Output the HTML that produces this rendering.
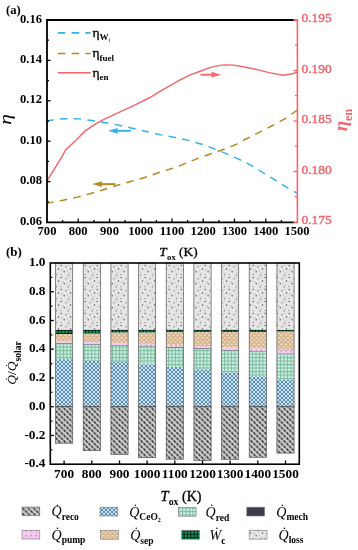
<!DOCTYPE html>
<html><head><meta charset="utf-8"><title>Figure</title>
<style>html,body{margin:0;padding:0;background:#fff;}body{width:358px;height:550px;position:relative;overflow:hidden;}</style>
</head><body>
<svg width="358" height="550" viewBox="0 0 358 550" style="position:absolute;left:0;top:0">
<defs>
<clipPath id="cpTop"><rect x="47" y="20" width="250" height="202"/></clipPath>
<pattern id="pReco" width="5.5" height="5.4" patternUnits="userSpaceOnUse" x="0" y="0">
<rect width="5.5" height="5.4" fill="#c8c8c8"/>
<path d="M0.85,0.75 L1.95,1.95 M3.6,3.45 L4.7,4.65" stroke="#1c1c1c" stroke-width="1.3" stroke-linecap="round"/>
</pattern>
<pattern id="pCeO2" width="4" height="4" patternUnits="userSpaceOnUse">
<rect width="4" height="4" fill="#bee8fb"/>
<path d="M0,0 L4,4 M4,0 L0,4" stroke="#6888a2" stroke-width="0.95"/>
<circle cx="2" cy="2" r="0.4" fill="#34495c"/>
</pattern>
<pattern id="pRed" width="3.5" height="3.5" patternUnits="userSpaceOnUse">
<rect width="3.5" height="3.5" fill="#c9f1e0"/>
<path d="M0,0.5 H3.5 M0.5,0 V3.5" stroke="#80bba2" stroke-width="1.0"/>
</pattern>
<pattern id="pPump" width="5" height="5" patternUnits="userSpaceOnUse">
<rect width="5" height="5" fill="#f5c8ef"/>
<circle cx="1.2" cy="0.8" r="0.5" fill="#333"/>
</pattern>
<pattern id="pSep" width="4.5" height="4.4" patternUnits="userSpaceOnUse">
<rect width="4.5" height="4.4" fill="#d0ad88"/>
<ellipse cx="2.25" cy="1.1" rx="1.4" ry="0.85" fill="#f6e3c8"/>
<ellipse cx="0" cy="3.3" rx="1.4" ry="0.85" fill="#f6e3c8"/>
<ellipse cx="4.5" cy="3.3" rx="1.4" ry="0.85" fill="#f6e3c8"/>
</pattern>
<pattern id="pWc" width="3.4" height="3.4" patternUnits="userSpaceOnUse">
<rect width="3.4" height="3.4" fill="#0c8d5a"/>
<path d="M0,0.4 H3.4 M0.4,0 V3.4" stroke="#06140e" stroke-width="0.9"/>
</pattern>
<pattern id="pLoss" width="12" height="12" patternUnits="userSpaceOnUse">
<rect width="12" height="12" fill="#e6e6e6"/>
<circle cx="2.5" cy="6" r="1.3" fill="#d2d2d2"/><circle cx="8.5" cy="1.5" r="1.2" fill="#d6d6d6"/><circle cx="9" cy="9.5" r="1.2" fill="#d4d4d4"/>
<circle cx="1.2" cy="1.5" r="0.7" fill="#4a4a4a"/>
<circle cx="6.0" cy="2.8" r="0.65" fill="#555"/>
<circle cx="10.5" cy="5.0" r="0.7" fill="#444"/>
<circle cx="4.2" cy="7.8" r="0.7" fill="#505050"/>
<circle cx="8.3" cy="11.0" r="0.6" fill="#5a5a5a"/>
<circle cx="1.0" cy="10.5" r="0.6" fill="#666"/>
<circle cx="7.5" cy="6.8" r="0.45" fill="#888"/>
</pattern>
</defs>
<rect width="358" height="550" fill="#fff"/>
<g clip-path="url(#cpTop)" fill="none" stroke-width="1.45">
<polyline points="47.0,203.3 55.0,201.6 63.0,200.2 76.5,197.4 90.0,193.7 100.0,190.7 115.6,185.8 131.3,181.3 144.7,177.5 158.1,172.8 170.4,169.0 179.5,165.8 197.3,158.6 219.7,150.8 235.3,144.8 245.0,139.5 258.1,132.8 271.5,126.0 284.9,118.8 297.0,110.3" stroke="#b5871c" stroke-dasharray="7.6 6.2" stroke-dashoffset="0.8"/>
<polyline points="47.0,120.8 53.0,120.0 60.0,119.0 70.0,118.6 80.0,118.9 90.0,120.3 100.0,121.8 110.0,123.4 120.0,125.5 130.0,127.7 145.0,131.2 160.0,134.6 175.0,137.5 186.2,139.9 201.8,144.2 219.7,150.8 237.6,158.6 248.0,163.6 262.0,172.0 274.5,179.6 287.1,187.7 297.0,193.2" stroke="#35b1ea" stroke-dasharray="7.6 6.2" stroke-dashoffset="0.8"/>
<polyline points="47.0,180.8 55.0,167.8 61.8,156.9 65.6,150.0 75.2,141.0 85.2,130.9 95.3,124.2 102.0,120.4 116.8,113.4 133.5,105.6 147.0,99.0 150.3,97.4 160.0,91.4 170.0,85.7 180.1,79.8 190.2,74.8 200.2,71.2 210.3,67.4 220.0,65.4 224.4,64.9 233.8,65.1 245.5,67.2 257.3,69.6 269.0,72.6 283.1,75.3 292.5,73.8 297.0,72.3" stroke="#f4656d"/>
</g>
<line x1="130.8" y1="130.8" x2="116.7" y2="130.8" stroke="#35b1ea" stroke-width="1.9"/>
<path d="M108.9,130.8 L117.7,128.2 L116.9,130.8 L117.7,133.4 Z" fill="#35b1ea" stroke="#35b1ea" stroke-width="0.4" stroke-linejoin="round"/>
<line x1="200.5" y1="74.7" x2="212.5" y2="74.7" stroke="#f4656d" stroke-width="1.9"/>
<path d="M220.3,74.7 L211.5,72.1 L212.3,74.7 L211.5,77.3 Z" fill="#f4656d" stroke="#f4656d" stroke-width="0.4" stroke-linejoin="round"/>
<line x1="115.4" y1="184.1" x2="100.8" y2="184.1" stroke="#b5871c" stroke-width="1.9"/>
<path d="M93.0,184.1 L101.8,181.5 L101.0,184.1 L101.8,186.7 Z" fill="#b5871c" stroke="#b5871c" stroke-width="0.4" stroke-linejoin="round"/>
<path d="M293.8,20 H47 V222.3 H293.8" fill="none" stroke="#000" stroke-width="1.8"/>
<path d="M293.8,20 H297.4 M293.8,222.3 H297.4" fill="none" stroke="#f4656d" stroke-width="1.8"/>
<line x1="297.4" y1="19.1" x2="297.4" y2="223.2" stroke="#f4656d" stroke-width="1.6"/>
<line x1="47" y1="201.8" x2="49.0" y2="201.8" stroke="#000" stroke-width="1.3"/>
<line x1="47" y1="181.6" x2="50.5" y2="181.6" stroke="#000" stroke-width="1.3"/>
<line x1="47" y1="161.4" x2="49.0" y2="161.4" stroke="#000" stroke-width="1.3"/>
<line x1="47" y1="141.2" x2="50.5" y2="141.2" stroke="#000" stroke-width="1.3"/>
<line x1="47" y1="121.0" x2="49.0" y2="121.0" stroke="#000" stroke-width="1.3"/>
<line x1="47" y1="100.8" x2="50.5" y2="100.8" stroke="#000" stroke-width="1.3"/>
<line x1="47" y1="80.6" x2="49.0" y2="80.6" stroke="#000" stroke-width="1.3"/>
<line x1="47" y1="60.4" x2="50.5" y2="60.4" stroke="#000" stroke-width="1.3"/>
<line x1="47" y1="40.2" x2="49.0" y2="40.2" stroke="#000" stroke-width="1.3"/>
<line x1="62.6" y1="222" x2="62.6" y2="220.0" stroke="#000" stroke-width="1.3"/>
<line x1="78.2" y1="222" x2="78.2" y2="218.5" stroke="#000" stroke-width="1.3"/>
<line x1="93.9" y1="222" x2="93.9" y2="220.0" stroke="#000" stroke-width="1.3"/>
<line x1="109.5" y1="222" x2="109.5" y2="218.5" stroke="#000" stroke-width="1.3"/>
<line x1="125.1" y1="222" x2="125.1" y2="220.0" stroke="#000" stroke-width="1.3"/>
<line x1="140.8" y1="222" x2="140.8" y2="218.5" stroke="#000" stroke-width="1.3"/>
<line x1="156.4" y1="222" x2="156.4" y2="220.0" stroke="#000" stroke-width="1.3"/>
<line x1="172.0" y1="222" x2="172.0" y2="218.5" stroke="#000" stroke-width="1.3"/>
<line x1="187.6" y1="222" x2="187.6" y2="220.0" stroke="#000" stroke-width="1.3"/>
<line x1="203.2" y1="222" x2="203.2" y2="218.5" stroke="#000" stroke-width="1.3"/>
<line x1="218.9" y1="222" x2="218.9" y2="220.0" stroke="#000" stroke-width="1.3"/>
<line x1="234.5" y1="222" x2="234.5" y2="218.5" stroke="#000" stroke-width="1.3"/>
<line x1="250.1" y1="222" x2="250.1" y2="220.0" stroke="#000" stroke-width="1.3"/>
<line x1="265.8" y1="222" x2="265.8" y2="218.5" stroke="#000" stroke-width="1.3"/>
<line x1="281.4" y1="222" x2="281.4" y2="220.0" stroke="#000" stroke-width="1.3"/>
<line x1="297" y1="196.7" x2="295.0" y2="196.7" stroke="#f4656d" stroke-width="1.3"/>
<line x1="297" y1="171.5" x2="293.5" y2="171.5" stroke="#f4656d" stroke-width="1.3"/>
<line x1="297" y1="146.2" x2="295.0" y2="146.2" stroke="#f4656d" stroke-width="1.3"/>
<line x1="297" y1="121.0" x2="293.5" y2="121.0" stroke="#f4656d" stroke-width="1.3"/>
<line x1="297" y1="95.7" x2="295.0" y2="95.7" stroke="#f4656d" stroke-width="1.3"/>
<line x1="297" y1="70.5" x2="293.5" y2="70.5" stroke="#f4656d" stroke-width="1.3"/>
<line x1="297" y1="45.2" x2="295.0" y2="45.2" stroke="#f4656d" stroke-width="1.3"/>
<g font-family='"Liberation Serif", "DejaVu Serif", serif' font-weight="bold" font-size="12.6" fill="#000">
<text x="42" y="224.6" text-anchor="end">0.06</text>
<text x="42" y="184.2" text-anchor="end">0.08</text>
<text x="42" y="143.8" text-anchor="end">0.10</text>
<text x="42" y="103.4" text-anchor="end">0.12</text>
<text x="42" y="63.0" text-anchor="end">0.14</text>
<text x="42" y="22.6" text-anchor="end">0.16</text>
<text x="47.0" y="235.3" text-anchor="middle">700</text>
<text x="78.2" y="235.3" text-anchor="middle">800</text>
<text x="109.5" y="235.3" text-anchor="middle">900</text>
<text x="140.8" y="235.3" text-anchor="middle">1000</text>
<text x="172.0" y="235.3" text-anchor="middle">1100</text>
<text x="203.2" y="235.3" text-anchor="middle">1200</text>
<text x="234.5" y="235.3" text-anchor="middle">1300</text>
<text x="265.8" y="235.3" text-anchor="middle">1400</text>
<text x="297.0" y="235.3" text-anchor="middle">1500</text>
</g>
<g font-family='"Liberation Serif", "DejaVu Serif", serif' font-size="13.4" fill="#f4656d" stroke="#f4656d" stroke-width="0.45">
<text x="301.5" y="224.4">0.175</text>
<text x="301.5" y="173.9">0.180</text>
<text x="301.5" y="123.4">0.185</text>
<text x="301.5" y="72.9">0.190</text>
<text x="301.5" y="22.4">0.195</text>
</g>
<text x="6" y="13.6" font-family='"Liberation Serif", "DejaVu Serif", serif' font-weight="bold" font-size="12.6">(a)</text>
<text transform="translate(10.9,119.4) rotate(-90) scale(1.25,1)" text-anchor="middle" font-family='"Liberation Serif", "DejaVu Serif", serif' font-style="italic" font-size="17">&#951;</text>
<text transform="translate(346.5,120) rotate(-90)" text-anchor="middle" font-family='"Liberation Serif", "DejaVu Serif", serif' font-style="italic" font-weight="bold" font-size="18.5" fill="#f4656d">&#951;<tspan font-style="normal" font-size="12" dy="5.5">en</tspan></text>
<text x="159.2" y="255.9" font-family='"Liberation Serif", "DejaVu Serif", serif' font-size="13.3"><tspan font-style="italic" stroke="#000" stroke-width="0.3">T</tspan><tspan font-size="8.7" font-weight="bold" dx="0.5" dy="3.8">ox</tspan><tspan dy="-3.8" stroke="#000" stroke-width="0.3"> (K)</tspan></text>
<g stroke-width="1.6" fill="none">
<line x1="57.8" y1="32.9" x2="90.5" y2="32.9" stroke="#35b1ea" stroke-dasharray="7.6 6.2"/>
<line x1="57.8" y1="53.5" x2="90.5" y2="53.5" stroke="#b5871c" stroke-dasharray="7.6 6.2"/>
<line x1="57.8" y1="72.7" x2="90.7" y2="72.7" stroke="#f4656d"/>
</g>
<g font-family='"Liberation Serif", "DejaVu Serif", serif' font-size="13.5" fill="#000">
<text x="92.5" y="36.5"><tspan stroke="#000" stroke-width="0.35">&#951;</tspan><tspan font-size="9" font-weight="bold" dy="3.8">W</tspan><tspan font-size="6" dy="2">t</tspan></text>
<text x="92.5" y="56.8"><tspan stroke="#000" stroke-width="0.35">&#951;</tspan><tspan font-size="9" font-weight="bold" dy="3.8">fuel</tspan></text>
<text x="92.5" y="76.5"><tspan stroke="#000" stroke-width="0.35">&#951;</tspan><tspan font-size="9" font-weight="bold" dy="3.8">en</tspan></text>
</g>
<rect x="55.5" y="263.00" width="17.2" height="66.90" fill="url(#pLoss)"/>
<rect x="55.5" y="329.90" width="17.2" height="4.20" fill="url(#pWc)"/>
<rect x="55.5" y="334.10" width="17.2" height="7.40" fill="url(#pSep)"/>
<rect x="55.5" y="341.50" width="17.2" height="1.80" fill="url(#pPump)"/>
<rect x="55.5" y="343.30" width="17.2" height="0.60" fill="#3b3f4b"/>
<rect x="55.5" y="343.90" width="17.2" height="15.30" fill="url(#pRed)"/>
<rect x="55.5" y="359.20" width="17.2" height="47.51" fill="url(#pCeO2)"/>
<rect x="55.5" y="406.71" width="17.2" height="36.49" fill="url(#pReco)"/>
<rect x="55.5" y="263.00" width="17.2" height="143.71" fill="none" stroke="#555" stroke-width="0.7"/>
<rect x="55.5" y="406.71" width="17.2" height="36.49" fill="none" stroke="#555" stroke-width="0.7"/>
<rect x="83.2" y="263.00" width="17.2" height="66.90" fill="url(#pLoss)"/>
<rect x="83.2" y="329.90" width="17.2" height="3.80" fill="url(#pWc)"/>
<rect x="83.2" y="333.70" width="17.2" height="8.30" fill="url(#pSep)"/>
<rect x="83.2" y="342.00" width="17.2" height="2.20" fill="url(#pPump)"/>
<rect x="83.2" y="344.20" width="17.2" height="0.60" fill="#3b3f4b"/>
<rect x="83.2" y="344.80" width="17.2" height="16.20" fill="url(#pRed)"/>
<rect x="83.2" y="361.00" width="17.2" height="45.71" fill="url(#pCeO2)"/>
<rect x="83.2" y="406.71" width="17.2" height="43.89" fill="url(#pReco)"/>
<rect x="83.2" y="263.00" width="17.2" height="143.71" fill="none" stroke="#555" stroke-width="0.7"/>
<rect x="83.2" y="406.71" width="17.2" height="43.89" fill="none" stroke="#555" stroke-width="0.7"/>
<rect x="110.9" y="263.00" width="17.2" height="66.90" fill="url(#pLoss)"/>
<rect x="110.9" y="329.90" width="17.2" height="2.80" fill="url(#pWc)"/>
<rect x="110.9" y="332.70" width="17.2" height="10.20" fill="url(#pSep)"/>
<rect x="110.9" y="342.90" width="17.2" height="2.20" fill="url(#pPump)"/>
<rect x="110.9" y="345.10" width="17.2" height="0.60" fill="#3b3f4b"/>
<rect x="110.9" y="345.70" width="17.2" height="16.30" fill="url(#pRed)"/>
<rect x="110.9" y="362.00" width="17.2" height="44.71" fill="url(#pCeO2)"/>
<rect x="110.9" y="406.71" width="17.2" height="47.69" fill="url(#pReco)"/>
<rect x="110.9" y="263.00" width="17.2" height="143.71" fill="none" stroke="#555" stroke-width="0.7"/>
<rect x="110.9" y="406.71" width="17.2" height="47.69" fill="none" stroke="#555" stroke-width="0.7"/>
<rect x="138.5" y="263.00" width="17.2" height="66.90" fill="url(#pLoss)"/>
<rect x="138.5" y="329.90" width="17.2" height="2.80" fill="url(#pWc)"/>
<rect x="138.5" y="332.70" width="17.2" height="11.20" fill="url(#pSep)"/>
<rect x="138.5" y="343.90" width="17.2" height="2.10" fill="url(#pPump)"/>
<rect x="138.5" y="346.00" width="17.2" height="0.60" fill="#3b3f4b"/>
<rect x="138.5" y="346.60" width="17.2" height="17.90" fill="url(#pRed)"/>
<rect x="138.5" y="364.50" width="17.2" height="42.21" fill="url(#pCeO2)"/>
<rect x="138.5" y="406.71" width="17.2" height="50.99" fill="url(#pReco)"/>
<rect x="138.5" y="263.00" width="17.2" height="143.71" fill="none" stroke="#555" stroke-width="0.7"/>
<rect x="138.5" y="406.71" width="17.2" height="50.99" fill="none" stroke="#555" stroke-width="0.7"/>
<rect x="166.2" y="263.00" width="17.2" height="66.90" fill="url(#pLoss)"/>
<rect x="166.2" y="329.90" width="17.2" height="2.40" fill="url(#pWc)"/>
<rect x="166.2" y="332.30" width="17.2" height="13.00" fill="url(#pSep)"/>
<rect x="166.2" y="345.30" width="17.2" height="2.10" fill="url(#pPump)"/>
<rect x="166.2" y="347.40" width="17.2" height="0.60" fill="#3b3f4b"/>
<rect x="166.2" y="348.00" width="17.2" height="18.90" fill="url(#pRed)"/>
<rect x="166.2" y="366.90" width="17.2" height="39.81" fill="url(#pCeO2)"/>
<rect x="166.2" y="406.71" width="17.2" height="52.49" fill="url(#pReco)"/>
<rect x="166.2" y="263.00" width="17.2" height="143.71" fill="none" stroke="#555" stroke-width="0.7"/>
<rect x="166.2" y="406.71" width="17.2" height="52.49" fill="none" stroke="#555" stroke-width="0.7"/>
<rect x="193.9" y="263.00" width="17.2" height="66.90" fill="url(#pLoss)"/>
<rect x="193.9" y="329.90" width="17.2" height="2.40" fill="url(#pWc)"/>
<rect x="193.9" y="332.30" width="17.2" height="13.90" fill="url(#pSep)"/>
<rect x="193.9" y="346.20" width="17.2" height="2.20" fill="url(#pPump)"/>
<rect x="193.9" y="348.40" width="17.2" height="0.60" fill="#3b3f4b"/>
<rect x="193.9" y="349.00" width="17.2" height="20.60" fill="url(#pRed)"/>
<rect x="193.9" y="369.60" width="17.2" height="37.11" fill="url(#pCeO2)"/>
<rect x="193.9" y="406.71" width="17.2" height="53.69" fill="url(#pReco)"/>
<rect x="193.9" y="263.00" width="17.2" height="143.71" fill="none" stroke="#555" stroke-width="0.7"/>
<rect x="193.9" y="406.71" width="17.2" height="53.69" fill="none" stroke="#555" stroke-width="0.7"/>
<rect x="221.5" y="263.00" width="17.2" height="66.90" fill="url(#pLoss)"/>
<rect x="221.5" y="329.90" width="17.2" height="2.10" fill="url(#pWc)"/>
<rect x="221.5" y="332.00" width="17.2" height="15.60" fill="url(#pSep)"/>
<rect x="221.5" y="347.60" width="17.2" height="2.60" fill="url(#pPump)"/>
<rect x="221.5" y="350.20" width="17.2" height="0.60" fill="#3b3f4b"/>
<rect x="221.5" y="350.80" width="17.2" height="21.70" fill="url(#pRed)"/>
<rect x="221.5" y="372.50" width="17.2" height="34.21" fill="url(#pCeO2)"/>
<rect x="221.5" y="406.71" width="17.2" height="52.59" fill="url(#pReco)"/>
<rect x="221.5" y="263.00" width="17.2" height="143.71" fill="none" stroke="#555" stroke-width="0.7"/>
<rect x="221.5" y="406.71" width="17.2" height="52.59" fill="none" stroke="#555" stroke-width="0.7"/>
<rect x="249.2" y="263.00" width="17.2" height="66.90" fill="url(#pLoss)"/>
<rect x="249.2" y="329.90" width="17.2" height="2.10" fill="url(#pWc)"/>
<rect x="249.2" y="332.00" width="17.2" height="16.70" fill="url(#pSep)"/>
<rect x="249.2" y="348.70" width="17.2" height="2.90" fill="url(#pPump)"/>
<rect x="249.2" y="351.60" width="17.2" height="0.60" fill="#3b3f4b"/>
<rect x="249.2" y="352.20" width="17.2" height="24.20" fill="url(#pRed)"/>
<rect x="249.2" y="376.40" width="17.2" height="30.31" fill="url(#pCeO2)"/>
<rect x="249.2" y="406.71" width="17.2" height="50.59" fill="url(#pReco)"/>
<rect x="249.2" y="263.00" width="17.2" height="143.71" fill="none" stroke="#555" stroke-width="0.7"/>
<rect x="249.2" y="406.71" width="17.2" height="50.59" fill="none" stroke="#555" stroke-width="0.7"/>
<rect x="276.9" y="263.00" width="17.2" height="67.00" fill="url(#pLoss)"/>
<rect x="276.9" y="330.00" width="17.2" height="1.70" fill="url(#pWc)"/>
<rect x="276.9" y="331.70" width="17.2" height="18.10" fill="url(#pSep)"/>
<rect x="276.9" y="349.80" width="17.2" height="3.90" fill="url(#pPump)"/>
<rect x="276.9" y="353.70" width="17.2" height="0.60" fill="#3b3f4b"/>
<rect x="276.9" y="354.30" width="17.2" height="25.40" fill="url(#pRed)"/>
<rect x="276.9" y="379.70" width="17.2" height="27.01" fill="url(#pCeO2)"/>
<rect x="276.9" y="406.71" width="17.2" height="46.39" fill="url(#pReco)"/>
<rect x="276.9" y="263.00" width="17.2" height="143.71" fill="none" stroke="#555" stroke-width="0.7"/>
<rect x="276.9" y="406.71" width="17.2" height="46.39" fill="none" stroke="#555" stroke-width="0.7"/>
<rect x="50.3" y="263.0" width="249.0" height="201.2" fill="none" stroke="#000" stroke-width="1.6"/>
<line x1="50.3" y1="449.8" x2="52.3" y2="449.8" stroke="#000" stroke-width="1.3"/>
<line x1="50.3" y1="435.5" x2="53.8" y2="435.5" stroke="#000" stroke-width="1.3"/>
<line x1="50.3" y1="421.1" x2="52.3" y2="421.1" stroke="#000" stroke-width="1.3"/>
<line x1="50.3" y1="406.7" x2="53.8" y2="406.7" stroke="#000" stroke-width="1.3"/>
<line x1="50.3" y1="392.3" x2="52.3" y2="392.3" stroke="#000" stroke-width="1.3"/>
<line x1="50.3" y1="378.0" x2="53.8" y2="378.0" stroke="#000" stroke-width="1.3"/>
<line x1="50.3" y1="363.6" x2="52.3" y2="363.6" stroke="#000" stroke-width="1.3"/>
<line x1="50.3" y1="349.2" x2="53.8" y2="349.2" stroke="#000" stroke-width="1.3"/>
<line x1="50.3" y1="334.9" x2="52.3" y2="334.9" stroke="#000" stroke-width="1.3"/>
<line x1="50.3" y1="320.5" x2="53.8" y2="320.5" stroke="#000" stroke-width="1.3"/>
<line x1="50.3" y1="306.1" x2="52.3" y2="306.1" stroke="#000" stroke-width="1.3"/>
<line x1="50.3" y1="291.7" x2="53.8" y2="291.7" stroke="#000" stroke-width="1.3"/>
<line x1="50.3" y1="277.4" x2="52.3" y2="277.4" stroke="#000" stroke-width="1.3"/>
<line x1="64.1" y1="464.2" x2="64.1" y2="460.4" stroke="#000" stroke-width="1.3"/>
<line x1="91.8" y1="464.2" x2="91.8" y2="460.4" stroke="#000" stroke-width="1.3"/>
<line x1="119.5" y1="464.2" x2="119.5" y2="460.4" stroke="#000" stroke-width="1.3"/>
<line x1="147.1" y1="464.2" x2="147.1" y2="460.4" stroke="#000" stroke-width="1.3"/>
<line x1="174.8" y1="464.2" x2="174.8" y2="460.4" stroke="#000" stroke-width="1.3"/>
<line x1="202.5" y1="464.2" x2="202.5" y2="460.4" stroke="#000" stroke-width="1.3"/>
<line x1="230.1" y1="464.2" x2="230.1" y2="460.4" stroke="#000" stroke-width="1.3"/>
<line x1="257.8" y1="464.2" x2="257.8" y2="460.4" stroke="#000" stroke-width="1.3"/>
<line x1="285.5" y1="464.2" x2="285.5" y2="460.4" stroke="#000" stroke-width="1.3"/>
<g font-family='"Liberation Serif", "DejaVu Serif", serif' font-weight="bold" font-size="13.3" fill="#000">
<text x="45.5" y="467.4" text-anchor="end">-0.4</text>
<text x="45.5" y="438.7" text-anchor="end">-0.2</text>
<text x="45.5" y="409.9" text-anchor="end">0.0</text>
<text x="45.5" y="381.2" text-anchor="end">0.2</text>
<text x="45.5" y="352.4" text-anchor="end">0.4</text>
<text x="45.5" y="323.7" text-anchor="end">0.6</text>
<text x="45.5" y="294.9" text-anchor="end">0.8</text>
<text x="45.5" y="266.2" text-anchor="end">1.0</text>
<text x="64.1" y="478.2" text-anchor="middle">700</text>
<text x="91.8" y="478.2" text-anchor="middle">800</text>
<text x="119.5" y="478.2" text-anchor="middle">900</text>
<text x="147.1" y="478.2" text-anchor="middle">1000</text>
<text x="174.8" y="478.2" text-anchor="middle">1100</text>
<text x="202.5" y="478.2" text-anchor="middle">1200</text>
<text x="230.1" y="478.2" text-anchor="middle">1300</text>
<text x="257.8" y="478.2" text-anchor="middle">1400</text>
<text x="285.5" y="478.2" text-anchor="middle">1500</text>
</g>
<text x="6" y="255.5" font-family='"Liberation Serif", "DejaVu Serif", serif' font-weight="bold" font-size="13">(b)</text>
<text x="160.4" y="500.9" font-family='"Liberation Serif", "DejaVu Serif", serif' font-size="14.5"><tspan font-style="italic" stroke="#000" stroke-width="0.35">T</tspan><tspan font-size="9.8" font-weight="bold" dx="0.2" dy="3.6">ox</tspan><tspan dy="-3.6" font-size="14" stroke="#000" stroke-width="0.35"> (K)</tspan></text>
<text transform="translate(16,363) rotate(-90)" text-anchor="middle" font-family='"Liberation Serif", "DejaVu Serif", serif' font-size="13.5"><tspan font-style="italic">Q&#775;</tspan>/<tspan font-style="italic">Q&#775;</tspan><tspan font-size="9.5" font-weight="bold" dy="4.5">solar</tspan></text>
<rect x="22.0" y="507.0" width="17.8" height="8.8" fill="url(#pReco)" stroke="#777" stroke-width="0.6"/>
<text x="51.5" y="516.3" font-family='"Liberation Serif", "DejaVu Serif", serif' font-size="14"><tspan font-style="italic">Q&#775;</tspan><tspan font-size="9.5" font-weight="bold" dy="3.8">reco</tspan></text>
<rect x="100.0" y="507.2" width="17.8" height="8.8" fill="url(#pCeO2)" stroke="#777" stroke-width="0.6"/>
<text x="129.2" y="516.5" font-family='"Liberation Serif", "DejaVu Serif", serif' font-size="14"><tspan font-style="italic">Q&#775;</tspan><tspan font-size="9.5" font-weight="bold" dy="3.8">CeO<tspan font-size="6" dy="2">2</tspan></tspan></text>
<rect x="178.3" y="507.4" width="17.8" height="8.8" fill="url(#pRed)" stroke="#777" stroke-width="0.6"/>
<text x="205.6" y="516.7" font-family='"Liberation Serif", "DejaVu Serif", serif' font-size="14"><tspan font-style="italic">Q&#775;</tspan><tspan font-size="9.5" font-weight="bold" dy="3.8">red</tspan></text>
<rect x="246.8" y="507.2" width="17.8" height="8.8" fill="#3b3f4b" stroke="#777" stroke-width="0.6"/>
<text x="276.3" y="516.5" font-family='"Liberation Serif", "DejaVu Serif", serif' font-size="14"><tspan font-style="italic">Q&#775;</tspan><tspan font-size="9.5" font-weight="bold" dy="3.8">mech</tspan></text>
<rect x="22.0" y="530.2" width="17.8" height="8.8" fill="url(#pPump)" stroke="#777" stroke-width="0.6"/>
<text x="51.5" y="539.5" font-family='"Liberation Serif", "DejaVu Serif", serif' font-size="14"><tspan font-style="italic">Q&#775;</tspan><tspan font-size="9.5" font-weight="bold" dy="3.8">pump</tspan></text>
<rect x="100.5" y="530.4" width="17.8" height="8.8" fill="url(#pSep)" stroke="#777" stroke-width="0.6"/>
<text x="130.2" y="539.7" font-family='"Liberation Serif", "DejaVu Serif", serif' font-size="14"><tspan font-style="italic">Q&#775;</tspan><tspan font-size="9.5" font-weight="bold" dy="3.8">sep</tspan></text>
<rect x="181.7" y="530.4" width="17.8" height="8.8" fill="url(#pWc)" stroke="#777" stroke-width="0.6"/>
<text x="209.5" y="539.7" font-family='"Liberation Serif", "DejaVu Serif", serif' font-size="14"><tspan font-style="italic">W&#775;</tspan><tspan font-size="9.5" font-weight="bold" dy="3.8">c</tspan></text>
<rect x="249.2" y="530.3" width="17.8" height="8.8" fill="url(#pLoss)" stroke="#777" stroke-width="0.6"/>
<text x="278.5" y="539.6" font-family='"Liberation Serif", "DejaVu Serif", serif' font-size="14"><tspan font-style="italic">Q&#775;</tspan><tspan font-size="9.5" font-weight="bold" dy="3.8">loss</tspan></text>
</svg>
</body></html>
